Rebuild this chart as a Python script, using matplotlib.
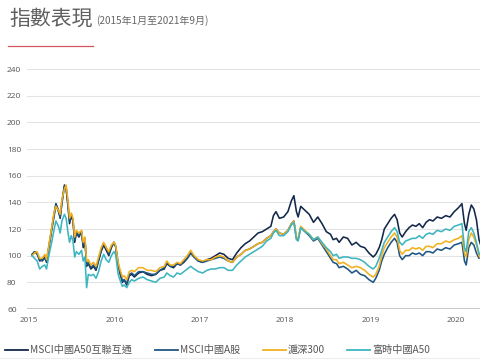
import matplotlib
matplotlib.use("Agg")
import matplotlib.pyplot as plt
import matplotlib.transforms as mtransforms
from matplotlib.lines import Line2D

plt.rcParams['font.family'] = ['Noto Sans CJK TC', 'DejaVu Sans']

# decimal years
dates = [
    2015.00, 2015.03, 2015.06, 2015.09, 2015.12, 2015.15, 2015.17, 2015.20, 2015.23, 2015.26,
    2015.28, 2015.31, 2015.33, 2015.35, 2015.38, 2015.40, 2015.42, 2015.44, 2015.46, 2015.48,
    2015.50, 2015.52, 2015.55, 2015.58, 2015.60, 2015.62, 2015.64, 2015.66, 2015.69, 2015.72,
    2015.75, 2015.78, 2015.81, 2015.84, 2015.87, 2015.90, 2015.93, 2015.96, 2015.98, 2016.01,
    2016.03, 2016.06, 2016.08, 2016.11, 2016.14, 2016.17, 2016.20, 2016.25, 2016.30, 2016.35,
    2016.40, 2016.45, 2016.50, 2016.55, 2016.58, 2016.62, 2016.66, 2016.70, 2016.74, 2016.78,
    2016.82, 2016.86, 2016.90, 2016.95, 2017.00, 2017.05, 2017.10, 2017.15, 2017.20, 2017.25,
    2017.30, 2017.35, 2017.40, 2017.45, 2017.50, 2017.55, 2017.60, 2017.65, 2017.70, 2017.75,
    2017.80, 2017.83, 2017.86, 2017.90, 2017.95, 2018.00, 2018.04, 2018.07, 2018.10, 2018.12,
    2018.15, 2018.20, 2018.25, 2018.30, 2018.35, 2018.40, 2018.45, 2018.50, 2018.53, 2018.57,
    2018.60, 2018.65, 2018.70, 2018.75, 2018.80, 2018.85, 2018.90, 2018.95, 2019.00, 2019.03,
    2019.07, 2019.10, 2019.13, 2019.17, 2019.21, 2019.25, 2019.28, 2019.31, 2019.34, 2019.38,
    2019.42, 2019.46, 2019.50, 2019.54, 2019.58, 2019.62, 2019.66, 2019.70, 2019.75, 2019.80,
    2019.85, 2019.90, 2019.95, 2020.00, 2020.04, 2020.07, 2020.09, 2020.12, 2020.15, 2020.18,
    2020.21, 2020.24, 2020.26,
]

msci_a50_connect = [
    101, 103, 102, 96, 97, 99, 95, 108, 120, 132,
    139, 134, 128, 140, 153, 150, 138, 124, 130, 126,
    110, 117, 114, 118, 106, 112, 92, 94, 90, 92,
    89, 96, 103, 108, 104, 100, 106, 110, 107, 93,
    87, 80, 82, 78, 85, 86, 84, 87, 88, 86,
    85, 86, 89, 90, 94, 92, 91, 94, 93, 95,
    98, 102, 99, 96, 95, 97, 98, 100, 102, 101,
    98, 97, 102, 106, 109, 111, 114, 117, 118, 120,
    122, 130, 133, 128, 129, 133, 141, 145, 133, 129,
    137, 134, 131, 125, 129, 124, 118, 116, 112, 113,
    110, 114, 113, 108, 110, 107, 106, 102, 99, 101,
    106, 112, 120, 124, 128, 131, 127, 117, 114, 118,
    121, 123, 122, 124, 121, 125, 127, 126, 129, 128,
    130, 129, 133, 136, 139, 124, 119, 131, 138, 135,
    127, 112, 108,
]

msci_china_a = [
    100, 103, 101, 97, 96, 98, 96, 107, 119, 130,
    138, 133, 129, 139, 152, 151, 140, 126, 131, 127,
    112, 118, 115, 118, 108, 113, 93, 95, 91, 93,
    90, 97, 104, 109, 106, 101, 107, 110, 107, 94,
    88, 81, 82, 79, 86, 87, 85, 88, 88, 87,
    86, 86, 89, 91, 95, 92, 92, 94, 93, 96,
    98, 102, 99, 96, 95, 96, 97, 98, 99, 98,
    96, 95, 99, 101, 104, 105, 107, 109, 110, 113,
    115, 118, 120, 117, 116, 119, 124, 126, 113, 112,
    121, 118, 115, 111, 113, 108, 103, 98, 95, 94,
    91, 92, 90, 87, 89, 86, 85, 82, 80, 83,
    89, 96, 101, 106, 110, 113, 110, 100, 97, 100,
    100, 102, 101, 102, 100, 103, 103, 102, 105, 104,
    106, 105, 108, 109, 110, 96, 93, 106, 110, 108,
    102, 98, 99,
]

csi_300 = [
    100, 102, 103, 98, 98, 101, 97, 109, 121, 133,
    137, 134, 131, 142, 150, 153, 142, 128, 132, 128,
    114, 119, 117, 119, 110, 114, 96, 97, 93, 95,
    92, 99, 106, 110, 106, 103, 108, 110, 108, 95,
    90, 84, 85, 82, 88, 89, 88, 91, 91, 89,
    89, 88, 91, 92, 96, 93, 93, 95, 94, 97,
    100, 104, 100, 97, 96, 97, 97, 99, 100, 99,
    96, 95, 99, 101, 104, 105, 107, 109, 110, 113,
    115, 118, 120, 117, 116, 119, 124, 126, 114, 113,
    122, 119, 116, 112, 114, 109, 105, 100, 97, 97,
    94, 95, 93, 91, 92, 91, 89, 86, 84, 86,
    92, 100, 106, 110, 114, 117, 114, 104, 101, 104,
    104, 106, 105, 106, 104, 107, 107, 106, 109, 109,
    111, 110, 112, 113, 115, 102, 99, 112, 117, 114,
    108, 100, 98,
]

ftse_china_a50 = [
    100, 98, 96, 90, 92, 93, 90, 101, 110, 120,
    126, 122, 117, 126, 131, 128, 118, 110, 115, 111,
    99, 103, 101, 104, 96, 99, 76, 86, 85, 86,
    83, 88, 96, 101, 97, 95, 100, 103, 101, 86,
    82, 77, 78, 76, 80, 82, 81, 83, 84, 82,
    81, 80, 83, 84, 87, 85, 84, 87, 86, 88,
    90, 92, 90, 88, 87, 89, 90, 90, 91, 91,
    89, 89, 93, 96, 99, 101, 103, 105, 107, 111,
    113, 117, 119, 115, 115, 118, 123, 125, 112, 111,
    121, 118, 116, 112, 114, 110, 106, 103, 100, 101,
    98, 99, 99, 98, 98, 97, 95, 92, 90, 92,
    98, 104, 110, 114, 118, 121, 118, 110, 108, 111,
    112, 113, 113, 115, 113, 116, 117, 116, 119, 118,
    120, 119, 122, 123, 124, 106, 103, 118, 121, 117,
    110, 102, 100,
]

series = [
    ("MSCI中國A50互聯互通", msci_a50_connect, "#13284a"),
    ("MSCI中國A股", msci_china_a, "#1f5684"),
    ("滬深300", csi_300, "#f2b01e"),
    ("富時中國A50", ftse_china_a50, "#3db5c0"),
]

y_ticks = [60, 80, 100, 120, 140, 160, 180, 200, 220, 240]
x_years = [2015, 2016, 2017, 2018, 2019, 2020]

fig = plt.figure(figsize=(4.8, 3.6), dpi=100)
ax = fig.add_axes([27 / 480, 1 - 309 / 360, 1 - 27 / 480, 249 / 360])

for y in y_ticks:
    if y == 60:
        ax.axhline(y, color="#c4c4c4", lw=1.3, zorder=1)
    else:
        ax.axhline(y, color="#e3e3e3", lw=0.8, zorder=1)

for name, vals, col in series:
    ax.plot(dates, vals, color=col, lw=1.15, zorder=3)

ax.set_xlim(2014.941, 2020.252)
ax.set_ylim(60, 246.75)
for s in ax.spines.values():
    s.set_visible(False)

ax.set_yticks(y_ticks)
ax.set_yticklabels([str(v) for v in y_ticks], fontsize=6, color="#555555",
                   family="Open Sans", ha="left")
ax.tick_params(axis="y", length=0, pad=14.4)
ax.set_xticks(x_years)
ax.set_xticklabels([str(v) for v in x_years], fontsize=5.8, color="#555555",
                   family="Open Sans")
ax.tick_params(axis="x", length=0, pad=6)
shift = mtransforms.ScaledTranslation(-3 / 100, 0, fig.dpi_scale_trans)
for lbl in ax.get_xticklabels():
    lbl.set_transform(lbl.get_transform() + shift)

# title
fig.text(9 / 480, 1 - 25 / 360, "指數表現", fontsize=15, color="#606060",
         va="baseline", ha="left")
fig.text(96 / 480, 1 - 24 / 360, "(2015年1月至2021年9月)", fontsize=7.2,
         color="#666666", va="baseline", ha="left")
fig.add_artist(Line2D([8 / 480, 93 / 480], [1 - 46 / 360, 1 - 46 / 360],
                      color="#d0575e", lw=0.9))

# legend
legend_x = [5, 155, 263, 347]
for (name, vals, col), lx in zip(series, legend_x):
    yy = 1 - 350 / 360
    fig.add_artist(Line2D([lx / 480, (lx + 23) / 480], [yy, yy], color=col, lw=1.3))
    fig.text((lx + 25) / 480, yy, name, fontsize=7.3, color="#555555",
             va="center", ha="left")
fig.add_artist(Line2D([0, 1], [1 - 358 / 360, 1 - 358 / 360], color="#eeeeee", lw=0.8))

fig.savefig("out.png", dpi=100)
